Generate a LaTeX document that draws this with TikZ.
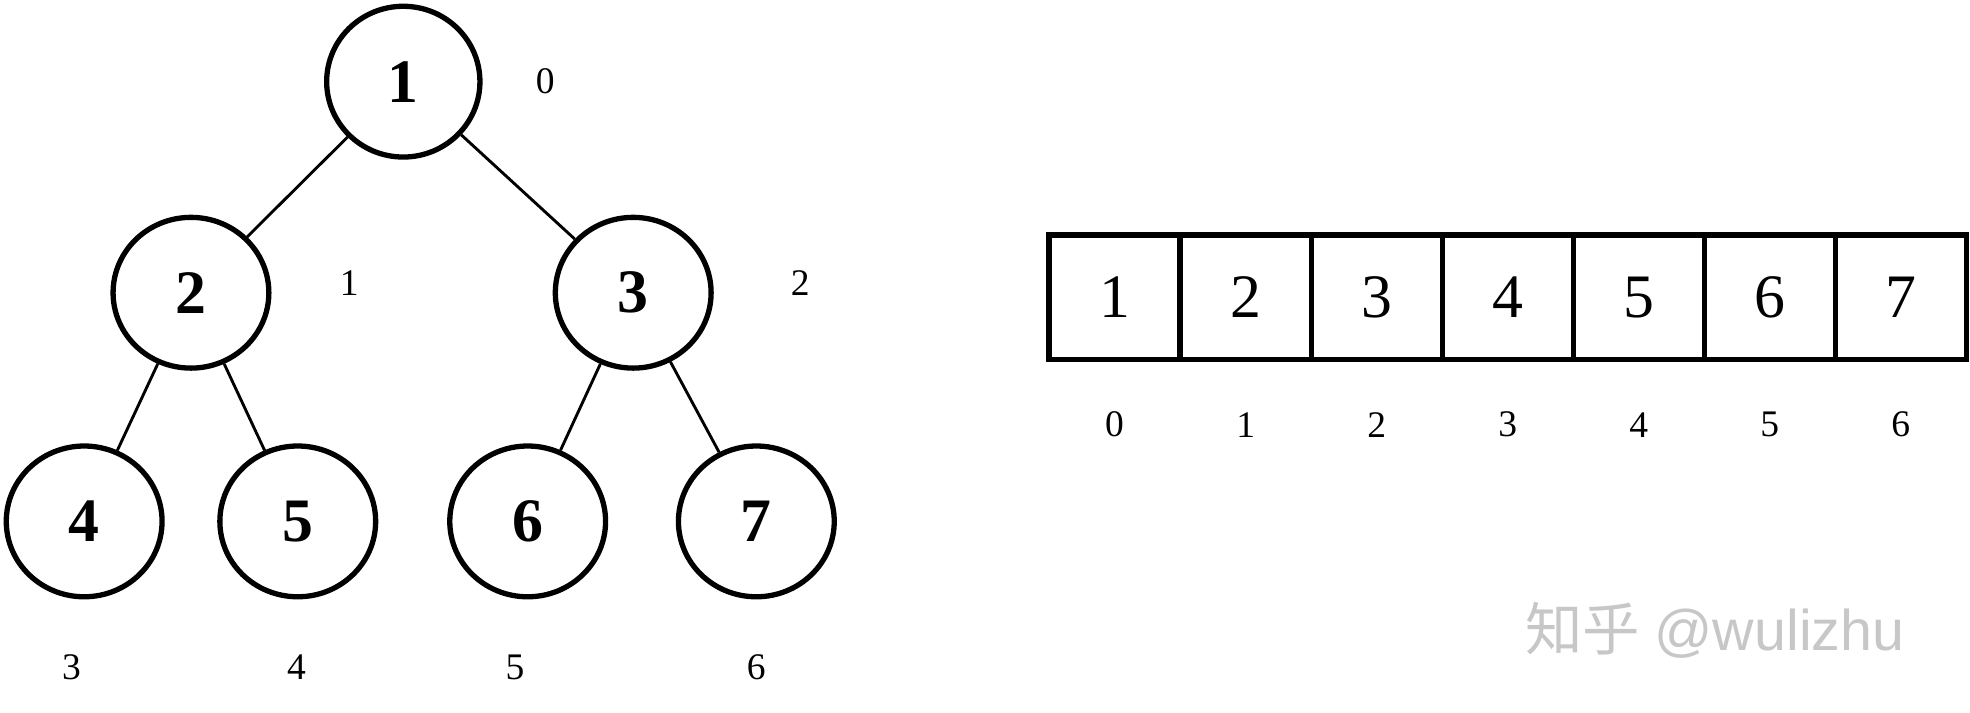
\documentclass[tikz,border=0pt]{standalone}
\usepackage{fontspec}
\setmainfont{Liberation Serif}
\newfontfamily\cjk{Noto Sans CJK SC}
\usetikzlibrary{shapes.geometric}
\begin{document}
\begin{tikzpicture}[x=0.02cm,y=-0.02cm,
  tn/.style={ellipse,draw,line width=2.4pt,minimum width=122\unitlen,minimum height=118\unitlen,inner sep=0pt,font=\fontsize{28}{30}\selectfont\bfseries},
  idx/.style={font=\fontsize{17}{19}\selectfont},
  cell/.style={draw,line width=2.4pt,minimum width=104.3\unitlen,minimum height=99\unitlen,inner sep=0pt,font=\fontsize{28}{30}\selectfont},
  edge/.style={line width=1.3pt}]
\def\unitlen{*0.02cm}
\useasboundingbox (0,0) rectangle (1568,567);
\node[tn,minimum width=122*0.02cm,minimum height=120*0.02cm] (n1) at (321,65) {1};
\node[tn,minimum width=124*0.02cm,minimum height=120*0.02cm] (n2) at (152,233) {2};
\node[tn,minimum width=124*0.02cm,minimum height=120*0.02cm] (n3) at (504,233) {3};
\node[tn,minimum width=124*0.02cm,minimum height=120*0.02cm] (n4) at (67,415) {4};
\node[tn,minimum width=124*0.02cm,minimum height=120*0.02cm] (n5) at (237,415) {5};
\node[tn,minimum width=124*0.02cm,minimum height=120*0.02cm] (n6) at (420,415) {6};
\node[tn,minimum width=124*0.02cm,minimum height=120*0.02cm] (n7) at (602,415) {7};
\draw[edge] (n1) -- (n2);
\draw[edge] (n1) -- (n3);
\draw[edge] (n2) -- (n4);
\draw[edge] (n2) -- (n5);
\draw[edge] (n3) -- (n6);
\draw[edge] (n3) -- (n7);
\node[idx] (i0) at (434,65) {0};
\node[idx] (i1) at (278,225) {1};
\node[idx] (i2) at (637,225) {2};
\node[idx] (i3) at (57,531) {3};
\node[idx] (i4) at (236,531) {4};
\node[idx] (i5) at (410,531) {5};
\node[idx] (i6) at (602,531) {6};
\foreach \k in {0,...,6}{
  \pgfmathtruncatemacro\v{\k+1}
  \node[cell,minimum width=104.3*0.02cm,minimum height=99*0.02cm] (c\k) at ({835+104.3*(\k+0.5)},236.5) {\v};
  \node[idx] (a\k) at ({835+104.3*(\k+0.5)},338) {\k};
}
\node[text=black!22,font=\fontsize{26}{28}\selectfont] (wm) at (1365,502) {{\cjk 知乎} {\fontspec{Liberation Sans}@wulizhu}};
\end{tikzpicture}
\end{document}
